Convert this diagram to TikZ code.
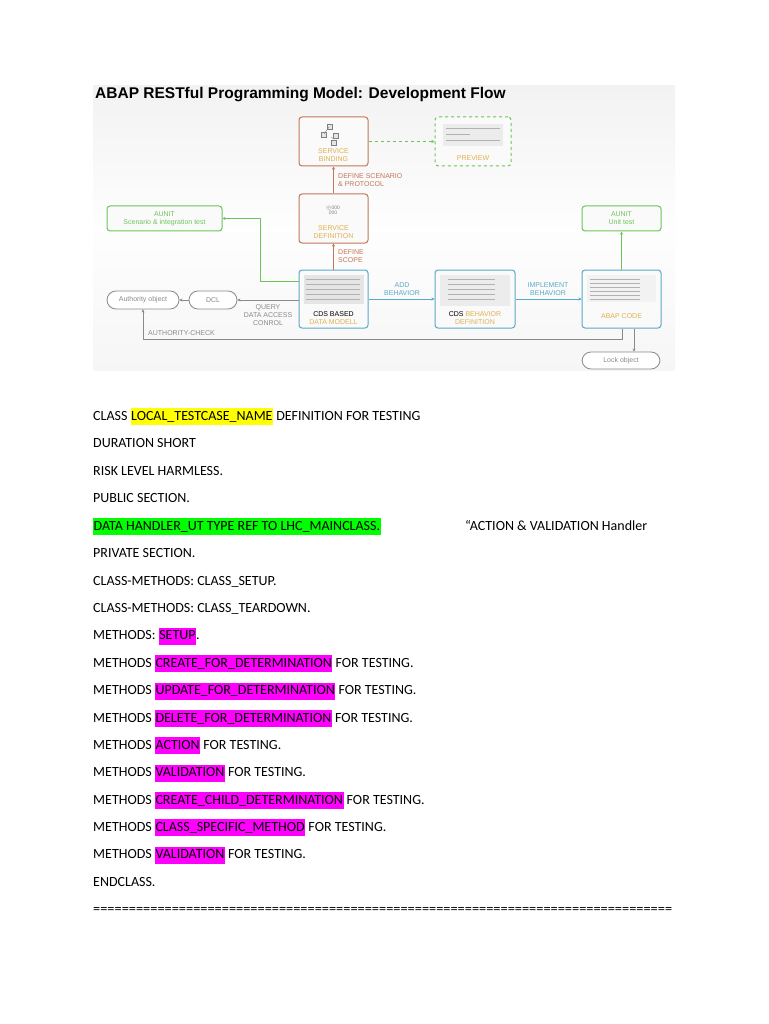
\documentclass[tikz,border=0pt]{standalone}
\usepackage{fontspec}
\setmainfont{Carlito}
\newfontfamily\arial{Liberation Sans}
\usetikzlibrary{arrows.meta}
\definecolor{orb}{HTML}{C0785A}
\definecolor{gr}{HTML}{6CC55A}
\definecolor{bl}{HTML}{5AA9C8}
\definecolor{yl}{HTML}{E0B050}
\definecolor{gy}{HTML}{8A8A8A}
\definecolor{hy}{HTML}{FFFF00}
\definecolor{hg}{HTML}{00FF00}
\definecolor{hm}{HTML}{FF00FF}
\tikzset{
 box/.style={draw, line width=1pt, rounded corners=3pt, fill=white!96!gray, inner sep=0pt},
 lab/.style={font=\arial\fontsize{7}{8}\selectfont, align=center, inner sep=0pt},
 pill/.style={draw=gy, line width=0.8pt, rounded corners=9pt, fill=white, inner sep=0pt, font=\arial\fontsize{7}{8}\selectfont, text=gy},
 arr/.style={line width=1pt, -{Stealth[length=3pt,width=3pt]}},
 ln/.style={anchor=base west, inner sep=0pt, font=\fontsize{14}{16}\selectfont},
}
\newcommand{\hlt}[2]{\begingroup\setlength{\fboxsep}{0.5pt}\colorbox{#1}{\strut #2}\endgroup}
\begin{document}
\begin{tikzpicture}[x=1pt,y=-1pt]
\useasboundingbox (0,0) rectangle (768,1024);
\fill[white] (0,0) rectangle (768,1024);
\shade[top color=white!90!gray, bottom color=white!93!gray, middle color=white!99!gray] (93,86) rectangle (675,370);
\node[anchor=west, inner sep=0pt, font=\arial\bfseries\fontsize{15.5}{17}\selectfont] (title) at (95,95) {ABAP RESTful Programming Model: Development Flow};
% nodes
\node[box, draw=orb, minimum width=69pt, minimum height=49pt] (sb) at (333.5,141.5) {};
\node[box, draw=gr, dashed, minimum width=76pt, minimum height=49pt] (pv) at (473,141.5) {};
\node[box, draw=orb, minimum width=69pt, minimum height=49pt] (sd) at (333.5,218.5) {};
\node[box, draw=gr, minimum width=115pt, minimum height=25pt, lab, text=gr] (au1) at (164.5,218.5) {AUNIT\\Scenario \& integration test};
\node[box, draw=bl, minimum width=69pt, minimum height=58pt] (cds) at (333.5,299) {};
\node[box, draw=bl, minimum width=80pt, minimum height=58pt] (bdef) at (475,299) {};
\node[box, draw=bl, minimum width=79pt, minimum height=58pt] (abap) at (621.5,299) {};
\node[box, draw=gr, minimum width=79pt, minimum height=25pt, lab, text=gr] (au2) at (621.5,218.5) {AUNIT\\Unit test};
\node[pill, minimum width=72pt, minimum height=18pt] (auth) at (143,300) {Authority object};
\node[pill, minimum width=48pt, minimum height=18pt] (dcl) at (213,300) {DCL};
\node[pill, minimum width=78pt, minimum height=17pt] (lock) at (621,360.5) {Lock object};
% node texts
\node[lab, text=yl] (sbt) at (333.5,155.5) {SERVICE\\BINDING};
\node[lab, text=yl] (pvt) at (473,158) {PREVIEW};
\node[lab, text=yl] (sdt) at (333.5,232.5) {SERVICE\\DEFINITION};
\node[lab] (cdst) at (333.5,318) {CDS BASED\\\textcolor{yl}{DATA MODELL}};
\node[lab, text=yl] (bdt) at (475,318) {\textcolor{black}{CDS} BEHAVIOR\\DEFINITION};
\node[lab, text=yl] (abt) at (621.5,316) {ABAP CODE};
% icons
\foreach \p in {(327,124),(321,132),(333,133),(331,140)} \draw[gray, fill=white!80!gray] \p rectangle ++(5,5);
\draw[gray] (324,134)--(329,127) (331,137)--(334,139);
\node[lab, font=\arial\fontsize{5}{5}\selectfont, text=gray] (sdi) at (333,210) {$\scriptstyle\oplus$000\\000};
\fill[white!85!gray] (443,124) rectangle (503,146);
\draw[gray!60] (446,128)--(500,128) (446,134)--(470,134) (446,140)--(500,140);
\fill[white!80!gray] (304,275) rectangle (364,304);
\foreach \yy in {279,284,289,294,299} \draw[gray!60] (306,\yy)--(360,\yy);
\fill[white!85!gray] (440,275) rectangle (510,306);
\foreach \yy in {279,284,289,294,299} \draw[gray!60] (448,\yy)--(495,\yy);
\fill[white!90!gray] (587,275) rectangle (656,302);
\foreach \yy in {279,283,287,291,295,299} \draw[gray!60] (590,\yy)--(640,\yy);
% connectors
\draw[arr, orb] (sd) -- (sb);
\draw[arr, orb] (cds) -- (sd);
\draw[arr, gr, dashed] (sb) -- (pv);
\draw[arr, gr] (cds.west |- 0,281) -| (260,218.5) -- (au1.east);
\draw[arr, bl] (cds) -- (bdef);
\draw[arr, bl] (bdef) -- (abap);
\draw[arr, gr] (abap) -- (au2);
\draw[arr, gy] (cds.west |- dcl) -- (dcl);
\draw[arr, gy] (dcl) -- (auth);
\draw[arr, gy] (abap.south) ++(0.5,0) coordinate (ab1) -- (ab1 |- 0,339) -| (auth.south);
\draw[arr, gy] (abap.south) ++(12.5,0) coordinate (ab2) -- (lock.north -| ab2);
% connector labels
\node[lab, text=orb, align=left, anchor=west] (l1) at (338,180) {DEFINE SCENARIO\\\& PROTOCOL};
\node[lab, text=orb, align=left, anchor=west] (l2) at (338,256) {DEFINE\\SCOPE};
\node[lab, text=bl] (l3) at (402,289) {ADD\\BEHAVIOR};
\node[lab, text=bl] (l4) at (548,289) {IMPLEMENT\\BEHAVIOR};
\node[lab, text=gy] (l5) at (268,315) {QUERY\\DATA ACCESS\\CONROL};
\node[lab, text=gy, anchor=west] (l6) at (148,333) {AUTHORITY-CHECK};
% text lines
\node[ln] (t1) at (93,420) {CLASS \hlt{hy}{LOCAL\_TESTCASE\_NAME} DEFINITION FOR TESTING};
\node[ln] (t2) at (93,447.5) {DURATION SHORT};
\node[ln] (t3) at (93,475) {RISK LEVEL HARMLESS.};
\node[ln] (t4) at (93,502.5) {PUBLIC SECTION.};
\node[ln] (t5) at (93,530) {\hlt{hg}{DATA HANDLER\_UT TYPE REF TO LHC\_MAINCLASS.}};
\node[ln] (t5b) at (465,530) {“ACTION \& VALIDATION Handler};
\node[ln] (t6) at (93,557.5) {PRIVATE SECTION.};
\node[ln] (t7) at (93,585) {CLASS-METHODS: CLASS\_SETUP.};
\node[ln] (t8) at (93,612) {CLASS-METHODS: CLASS\_TEARDOWN.};
\node[ln] (t9) at (93,639.5) {METHODS: \hlt{hm}{SETUP}.};
\node[ln] (t10) at (93,667) {METHODS \hlt{hm}{CREATE\_FOR\_DETERMINATION} FOR TESTING.};
\node[ln] (t11) at (93,694.5) {METHODS \hlt{hm}{UPDATE\_FOR\_DETERMINATION} FOR TESTING.};
\node[ln] (t12) at (93,722) {METHODS \hlt{hm}{DELETE\_FOR\_DETERMINATION} FOR TESTING.};
\node[ln] (t13) at (93,749) {METHODS \hlt{hm}{ACTION} FOR TESTING.};
\node[ln] (t14) at (93,776.5) {METHODS \hlt{hm}{VALIDATION} FOR TESTING.};
\node[ln] (t15) at (93,804) {METHODS \hlt{hm}{CREATE\_CHILD\_DETERMINATION} FOR TESTING.};
\node[ln] (t16) at (93,831) {METHODS \hlt{hm}{CLASS\_SPECIFIC\_METHOD} FOR TESTING.};
\node[ln] (t17) at (93,858.5) {METHODS \hlt{hm}{VALIDATION} FOR TESTING.};
\node[ln] (t18) at (93,886) {ENDCLASS.};
\node[ln] (t19) at (93,913) {\resizebox{579pt}{\height}{=================================================================================}};
\end{tikzpicture}
\end{document}
